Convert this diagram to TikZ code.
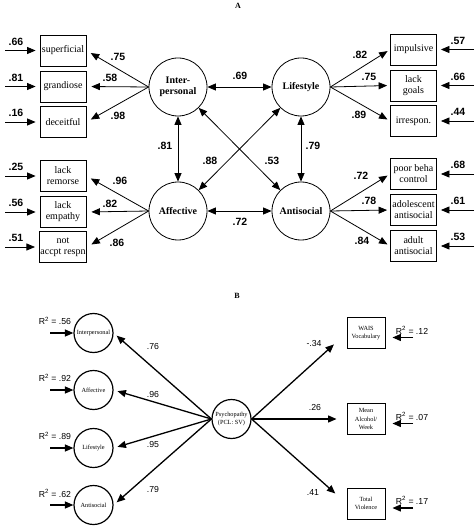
\documentclass[tikz,border=0pt]{standalone}
\usepackage{fontspec}
\setmainfont{Liberation Serif}
\setsansfont{Liberation Sans}
\usetikzlibrary{positioning,arrows.meta}

\tikzset{
	obs/.style={draw, rectangle, minimum width=46pt, minimum height=31pt, inner sep=1pt, align=center, font=\fontsize{10}{11}\selectfont},
	lat/.style={draw, circle, minimum size=58pt, inner sep=0pt, align=center, font=\bfseries\fontsize{10}{11}\selectfont},
	num/.style={font=\sffamily\bfseries\fontsize{10.5}{12}\selectfont},
	ttl/.style={font=\bfseries\fontsize{8}{9}\selectfont},
	obsB/.style={draw, rectangle, minimum width=38pt, minimum height=31pt, inner sep=1pt, align=center, line width=0.9pt, font=\fontsize{6.3}{8.4}\selectfont},
	latB/.style={draw, circle, minimum size=39pt, inner sep=0pt, align=center, line width=1.2pt, font=\fontsize{6.3}{8}\selectfont},
	numB/.style={font=\sffamily\fontsize{8.7}{10}\selectfont},
	thickarr/.style={->, line width=1.3pt}
}

\begin{document}
\begin{tikzpicture}[x=1pt, y=-1pt, line width=0.8pt, >={Triangle[length=8.5pt,width=7pt]}]
	\useasboundingbox (0,0) rectangle (474,526);
	\node[ttl] at(238,6) (tA) {A};
	\node[lat] at(178,87) (ip) {Inter-\\personal};
	\node[lat] at(301,87) (ls) {Lifestyle};
	\node[lat] at(178,211) (af) {Affective};
	\node[lat] at(301,211) (as) {Antisocial};
	\foreach \n/\y/\txt/\e in {sup/50.5/superficial/.66, gra/86.5/grandiose/.81, dec/122/deceitful/.16, rem/176/{lack\\remorse}/.25, emp/212/{lack\\empathy}/.56, acc/247/{not\\accpt respn}/.51} {
		\node[obs] at(63,\y) (\n) {\txt};
		\coordinate (e\n) at (5,\y);
		\node[num] at(16,\y-9) (v\n) {\e};
		\draw[->, shorten >=4pt] (e\n) -- (\n);
	};
	\foreach \n/\y/\txt/\e in {imp/49.5/impulsive/.57, goa/85.5/{lack\\goals}/.66, irr/121/irrespon./.44, pbc/174/{poor beha\\control}/.68, ado/210/{adolescent\\antisocial}/.61, adu/246/{adult\\antisocial}/.53} {
		\node[obs] at(413.5,\y) (\n) {\txt};
		\coordinate (e\n) at (474,\y);
		\node[num] at(458,\y-9) (v\n) {\e};
		\draw[->, shorten >=4pt] (e\n) -- (\n);
	};
	\foreach \f/\n/\v/\x/\y in {ip/sup/.75/118/57, ip/gra/.58/110/78, ip/dec/.98/118/116, af/rem/.96/120/181, af/emp/.82/110/204, af/acc/.86/117/243} {
		\draw[->, shorten >=5pt] (\f.west) -- (\n.east);
		\node[num] at(\x,\y) (p\n) {\v};
	};
	\foreach \f/\n/\v/\x/\y in {ls/imp/.82/360/55, ls/goa/.75/369/77, ls/irr/.89/359/115, as/pbc/.72/361/176, as/ado/.78/369/201, as/adu/.84/362/241} {
		\draw[->, shorten >=3pt] (\f.east) -- (\n.west);
		\node[num] at(\x,\y) (p\n) {\v};
	};
	\path[draw,<->]
		(ip) edge (ls)
		(ip) edge (af)
		(ls) edge (as)
		(af) edge (as)
		(ip) edge (as)
		(ls) edge (af);
	\node[num] at(240,76) (cil) {.69};
	\node[num] at(165,146) (cia) {.81};
	\node[num] at(313,146) (cla) {.79};
	\node[num] at(210,161) (cla2) {.88};
	\node[num] at(272,161) (cia2) {.53};
	\node[num] at(240,222) (caa) {.72};

	\node[ttl] at(237,296) (tB) {B};
	\node[latB] at(231.5,419) (ps) {Psychopathy\\(PCL: SV)};
	\foreach \n/\y/\txt/\r/\v/\ly in {ipB/333/Interpersonal/.56/.76/347, afB/390/Affective/.92/.96/395, lsB/448/Lifestyle/.89/.95/444, asB/505/Antisocial/.62/.79/489} {
		\node[latB] at(93.5,\y) (\n) {\txt};
		\coordinate (r\n) at (50,\y);
		\node[numB] at(55,\y-12) (q\n) {R\textsuperscript{2} = \r};
		\draw[thickarr] (r\n) -- (\n);
		\draw[thickarr, shorten >=4pt] (ps.west) -- (\n.east);
		\node[numB] at(153,\ly) (l\n) {\v};
	};
	\foreach \n/\y/\txt/\r/\v/\lx/\ly/\s in {wais/333/{WAIS\\Vocabulary}/.12/-.34/314/344/17pt, alc/419/{Mean\\Alcohol/\\Week}/.07/.26/315/408/10pt, tv/503.5/{Total\\Violence}/.17/.41/313/493/15pt} {
		\node[obsB] at(366,\y) (\n) {\txt};
		\coordinate (r\n) at (413,\y+4.5);
		\node[numB] at(412,\y-3) (q\n) {R\textsuperscript{2} = \r};
		\draw[thickarr, shorten >=7pt] (r\n) -- (r\n -| \n.east);
		\draw[thickarr, shorten >=\s] (ps.east) -- (\n.west);
		\node[numB] at(\lx,\ly) (l\n) {\v};
	};
\end{tikzpicture}
\end{document}
